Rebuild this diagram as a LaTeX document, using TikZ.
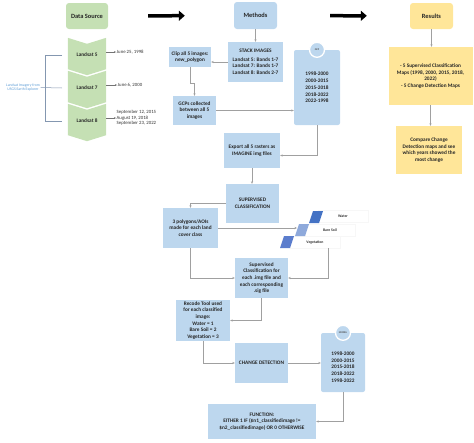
\documentclass[tikz,border=0pt]{standalone}
\usepackage{fontspec}
\setmainfont{Carlito}
\usepackage{tikz}
\usetikzlibrary{positioning, arrows.meta, calc, backgrounds}
\definecolor{mblue}{RGB}{189,215,238}
\definecolor{dgreen}{RGB}{197,224,180}
\definecolor{ryellow}{RGB}{255,230,153}
\definecolor{conn}{RGB}{160,160,160}
\definecolor{waterc}{RGB}{68,114,196}
\definecolor{soilc}{RGB}{142,169,219}
\definecolor{vegc}{RGB}{91,125,205}
\definecolor{usgsc}{RGB}{91,155,213}
\definecolor{bracketc}{RGB}{132,151,176}
\newcommand{\boxfont}{\fontsize{5.3}{6.7}\selectfont\bfseries}
\newcommand{\headfont}{\fontsize{6.4}{7.5}\selectfont\bfseries}
\newcommand{\badgefont}{\fontsize{2.6}{3}\selectfont\bfseries}
\tikzstyle{head} = [rectangle, rounded corners=3pt, font=\headfont, text=black!85, inner sep=1pt, minimum width=43pt, minimum height=26pt]
\tikzstyle{mblock} = [rectangle, fill=mblue, font=\boxfont, align=center, text=black!85, inner sep=1pt]
\tikzstyle{rblock} = [rectangle, fill=ryellow, font=\boxfont, align=center, text=black!85, inner sep=1pt]
\tikzstyle{chev} = [rectangle, minimum width=38pt, minimum height=34pt, font=\boxfont, text=black!85, inner sep=0pt]
\tikzstyle{date} = [font=\fontsize{4.8}{5.6}\selectfont, align=left, text=black!80, inner sep=0.5pt, anchor=west]
\tikzstyle{badge} = [circle, fill=mblue, draw=white, line width=1.3pt, minimum size=15pt, inner sep=0pt, font=\badgefont, text=black!70]
\tikzstyle{legtext} = [rectangle, draw=black!3, fill=white, minimum width=50pt, minimum height=12pt, inner sep=0pt, font=\fontsize{3.8}{4.5}\selectfont\bfseries, text=black!80]
\tikzstyle{line} = [draw=conn, line width=0.6pt, -{Stealth[length=2.5pt, width=2.2pt]}]
\tikzstyle{dline} = [draw=black!55, line width=0.4pt, -{Stealth[length=2pt, width=1.8pt]}]
\tikzstyle{bigarrow} = [draw=black, line width=3.5pt, -{Triangle[length=6pt, width=10pt]}]

\begin{document}
\begin{tikzpicture}[x=1pt, y=-1pt]
        \useasboundingbox (0,0) rectangle (474,442);
        % Headers
        \node (datasrc) [head, fill=dgreen, minimum width=42pt] at (87,16) {Data Source};
        \node (methods) [head, fill=mblue, minimum height=27pt] at (255.5,15.5) {Methods};
        \node (results) [head, fill=ryellow] at (431.5,16) {Results};
        % Data source column
        \node (ls5) [chev] at (87,55) {Landsat 5};
        \node (ls7) [chev] at (87,88) {Landsat 7};
        \node (ls8) [chev] at (87,121) {Landsat 8};
        \begin{scope}[on background layer]
        \foreach \ls in {ls5, ls7, ls8} {
            \fill[dgreen] (\ls.north west) -- ([yshift=-6pt]\ls.north) -- (\ls.north east)
                -- ([yshift=3pt]\ls.south east) -- ([yshift=-3pt]\ls.south) -- ([yshift=3pt]\ls.south west) -- cycle;
        }
        \end{scope}
        \node (d5) [date] at (116,52) {June 25, 1998};
        \node (d7) [date] at (117,85) {June 6, 2000};
        \node (d8) [date] at (116,118) {September 12, 2015\\August 19, 2018\\September 23, 2022};
        \node (usgs) [font=\fontsize{3.8}{4.4}\selectfont, text=usgsc, align=center, inner sep=0.5pt] at (23,87.5) {Landsat Imagery from\\USGS Earth Explorer};
        \coordinate (brt) at (62,55);
        \coordinate (brm) at (62,88);
        \coordinate (brb) at (62,121);
        % Methods column
        \node (stack) [mblock, minimum width=55pt, minimum height=40pt] at (255.5,62) {STACK IMAGES\\[1.5pt]Landsat 5: Bands 1-7\\Landsat 7: Bands 1-7\\Landsat 8: Bands 2-7};
        \node (clip) [mblock, minimum width=42pt, minimum height=20pt] at (190,57) {Clip all 5 images:\\new\_polygon};
        \node (gcps) [mblock, minimum width=43pt, minimum height=29pt] at (194.5,110.5) {GCPs collected\\between all 5\\images};
        \node (gcp) [mblock, rounded corners=2pt, minimum width=46pt, minimum height=75pt] at (317,87.5) {1998-2000\\2000-2015\\2015-2018\\2018-2022\\2022-1998};
        \node (gcpc) [badge] at (gcp.north) {GCP};
        \node (export) [mblock, minimum width=56pt, minimum height=35pt] at (252,150.5) {Export all 5 rasters as\\IMAGINE img files};
        \node (supcls) [mblock, minimum width=53pt, minimum height=39pt] at (252.5,203.5) {SUPERVISED\\CLASSIFICATION};
        \node (polys) [mblock, minimum width=55pt, minimum height=40pt] at (190.5,228) {3 polygons/AOIs\\made for each land\\cover class};
        % Legend
        \node (lwater) [legtext] at (343,216.5) {Water};
        \node (lsoil) [legtext] at (330,230) {Bare Soil};
        \node (lveg) [legtext] at (315,242) {Vegetation};
        \fill[waterc] (309,223) -- (319,223) -- (323,211) -- (313,211) -- cycle;
        \fill[soilc] (295,236) -- (305,236) -- (309,224) -- (299,224) -- cycle;
        \fill[vegc] (280,248) -- (290,248) -- (294,236) -- (284,236) -- cycle;
        \coordinate (legin) at (297,228);
        \coordinate (legout) at (328,248);
        \node (supeach) [mblock, minimum width=53pt, minimum height=40pt] at (261.5,278) {Supervised\\Classification for\\each .img file and\\each corresponding\\.sig file};
        \node (recode) [mblock, minimum width=54pt, minimum height=41pt] at (203,320.5) {Recode Tool used\\for each classified\\image:\\Water = 1\\Bare Soil = 2\\Vegetation = 3};
        \node (change) [mblock, minimum width=53pt, minimum height=40pt] at (261.5,363) {CHANGE DETECTION};
        \node (model) [mblock, rounded corners=2pt, minimum width=44pt, minimum height=59pt] at (343,362.5) {\rule{0pt}{12.5pt}1998-2000\\2000-2015\\2015-2018\\2018-2022\\1998-2022};
        \node (modelc) [badge] at (model.north) {MODEL};
        \node (func) [mblock, minimum width=108pt, minimum height=35pt] at (262,421.5) {FUNCTION:\\EITHER 1 IF (\$n1\_classifiedimage !=\\\$n2\_classifiedimage) OR 0 OTHERWISE};
        % Results column
        \node (res1) [rblock, minimum width=84pt, minimum height=58pt] at (430.5,76) {- 5 Supervised Classification\\Maps (1998, 2000, 2015, 2018,\\2022)\\- 5 Change Detection Maps};
        \node (res2) [rblock, minimum width=66pt, minimum height=48pt] at (429,150) {Compare Change\\Detection maps and see\\which years showed the\\most change};
        % Edges
        \path [bigarrow, shorten <=40pt, shorten >=49pt] (datasrc) -- (methods);
        \path [bigarrow, shorten <=53pt, shorten >=43pt] (methods) -- (results);
        \path [dline] (ls5.east |- d5.west) -- (d5.west);
        \path [dline] (ls7.east |- d7.west) -- (d7.west);
        \path [dline] (ls8.east |- d8.west) -- (d8.west);
        \draw [bracketc, line width=0.5pt] (brt) -- ++(-17,0) |- (brb);
        \draw [bracketc, line width=0.5pt] (usgs.east) -- (brm);
        \path [line] (methods.south) -- (stack.north);
        \path [line] (stack.west) -- (stack.west -| clip.east);
        \path [line] (clip.south) -- ++(0,16) -| (gcps.north);
        \path [line] (gcps.east) -- (gcps.east -| gcp.west);
        \path [line] (gcp.south) |- ([yshift=-5pt]export.east);
        \path [line] (export.south) -- (export.south |- supcls.north);
        \path [line] (supcls.west) -| (polys.north);
        \path [line] (polys.east) -- (legin);
        \path [line] (legout) |- (supeach.east);
        \path [line] (polys.south) |- (supeach.west);
        \path [line] (supeach.south) |- (recode.east);
        \path [line] (recode.south) |- (change.west);
        \path [line] (change.east) -- (change.east -| model.west);
        \path [line] (model.south) |- (func.east);
        \path [line] (results.south) -- (results.south |- res1.north);
        \path [line] (res1.south) -- (res1.south |- res2.north);
    \end{tikzpicture}
\end{document}
